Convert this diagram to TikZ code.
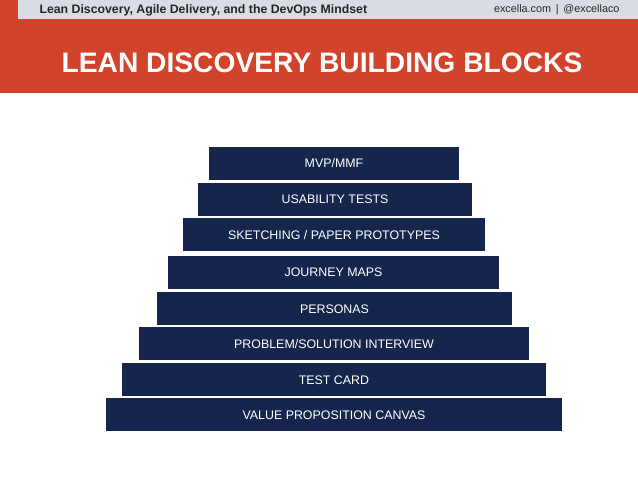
\documentclass[tikz,border=0pt]{standalone}
\usepackage{fontspec}
\setmainfont{Liberation Sans}
\definecolor{navy}{HTML}{15254B}
\definecolor{brandred}{HTML}{D1432A}
\definecolor{bargray}{HTML}{D9DDE3}
\begin{document}
\begin{tikzpicture}[x=1pt,y=-1pt,
  block/.style={fill=navy,draw=none,inner sep=0pt,text=white,font=\fontsize{12.4}{14}\selectfont,minimum height=33pt}]
\useasboundingbox (0,0) rectangle (638,478);
\fill[white] (0,0) rectangle (638,478);
\fill[brandred] (0,0) rectangle (638,93);
\fill[bargray] (18,0) rectangle (638,19);
\node[anchor=west,font=\bfseries\fontsize{12.3}{14}\selectfont,text=black!85] (hdr) at (36,10) {Lean Discovery, Agile Delivery, and the DevOps Mindset};
\node[anchor=east,font=\fontsize{10.8}{14}\selectfont,text=black!85] (site) at (623,10) {excella.com \,|\, @excellaco};
\node[font=\bfseries\fontsize{28.2}{32}\selectfont,text=white] (title) at (322,63) {LEAN DISCOVERY BUILDING BLOCKS};
\node[block,minimum width=250pt] (b1) at (334,163.5) {MVP/MMF};
\node[block,minimum width=274pt] (b2) at (335,199.5) {USABILITY TESTS};
\node[block,minimum width=302pt] (b3) at (334,235) {SKETCHING / PAPER PROTOTYPES};
\node[block,minimum width=331pt] (b4) at (333.5,272.5) {JOURNEY MAPS};
\node[block,minimum width=355pt] (b5) at (334.5,309) {PERSONAS};
\node[block,minimum width=390pt] (b6) at (334,344) {PROBLEM/SOLUTION INTERVIEW};
\node[block,minimum width=424pt] (b7) at (334,380) {TEST CARD};
\node[block,minimum width=456pt] (b8) at (334,415) {VALUE PROPOSITION CANVAS};
\end{tikzpicture}
\end{document}
